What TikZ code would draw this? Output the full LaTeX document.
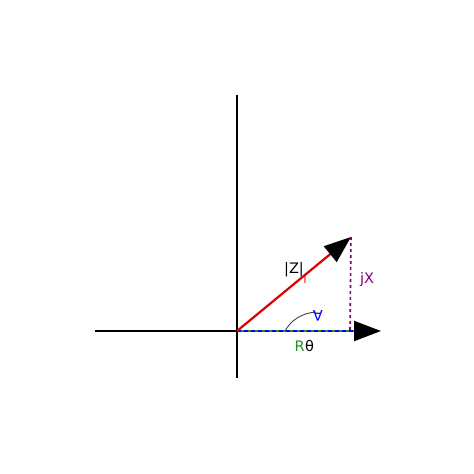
\documentclass[tikz,border=0pt]{standalone}
\usepackage{fontspec}
\setmainfont{DejaVu Sans}
\usetikzlibrary{arrows.meta}
\definecolor{myred}{RGB}{220,0,0}
\definecolor{mypurple}{RGB}{128,0,128}
\definecolor{mygreen}{RGB}{40,140,40}
\begin{document}
\begin{tikzpicture}[x=1pt,y=-1pt,
  axis/.style={line width=1.6pt,black},
  lbl/.style={inner sep=0pt,font=\fontsize{14.5}{14.5}\selectfont},
  bighead/.style={-{Triangle[length=27pt,width=20pt,color=black]}}]
\useasboundingbox (0,0) rectangle (474,474);
\coordinate (O) at (237,331);
\coordinate (top) at (237,95);
\coordinate (bot) at (237,378);
\coordinate (left) at (95,331);
\coordinate (Rend) at (381,331);
\coordinate (Zend) at (351,237);
\coordinate (Xfoot) at (350,331);
\coordinate (arcA) at (285,331);
\coordinate (arcB) at (316,312);
% axes
\draw[axis] (top) -- (bot);
\draw[axis] (left) -- (O);
% horizontal arrow: green line with blue dashes
\draw[line width=2pt,mygreen,bighead] (O) -- (Rend);
\draw[line width=2pt,blue,dash pattern=on 4pt off 3pt] (O) -- (355,331);
% red arrow
\draw[line width=2.2pt,myred,bighead] (O) -- (Zend);
% dotted purple
\draw[mypurple,line width=1.6pt,dash pattern=on 3pt off 3pt] (Zend) -- (Xfoot);
% arc
\draw[line width=0.9pt,black!75] (arcA) .. controls (291,320) and (302,313) .. (arcB);
% labels
\node[lbl] (Zlbl) at (294,270) {|Z|};
\node[lbl,myred,font=\fontsize{10}{10}\selectfont] (Ilbl) at (305,280) {I};
\node[lbl,mypurple] (jX) at (367,279) {jX};
\node[lbl,blue,rotate=180] (V) at (318,316) {A};
\node[lbl,anchor=east,mygreen] (Rl) at (305,346) {R};
\node[lbl,anchor=west] (th) at (305,346) {θ};
\end{tikzpicture}
\end{document}
